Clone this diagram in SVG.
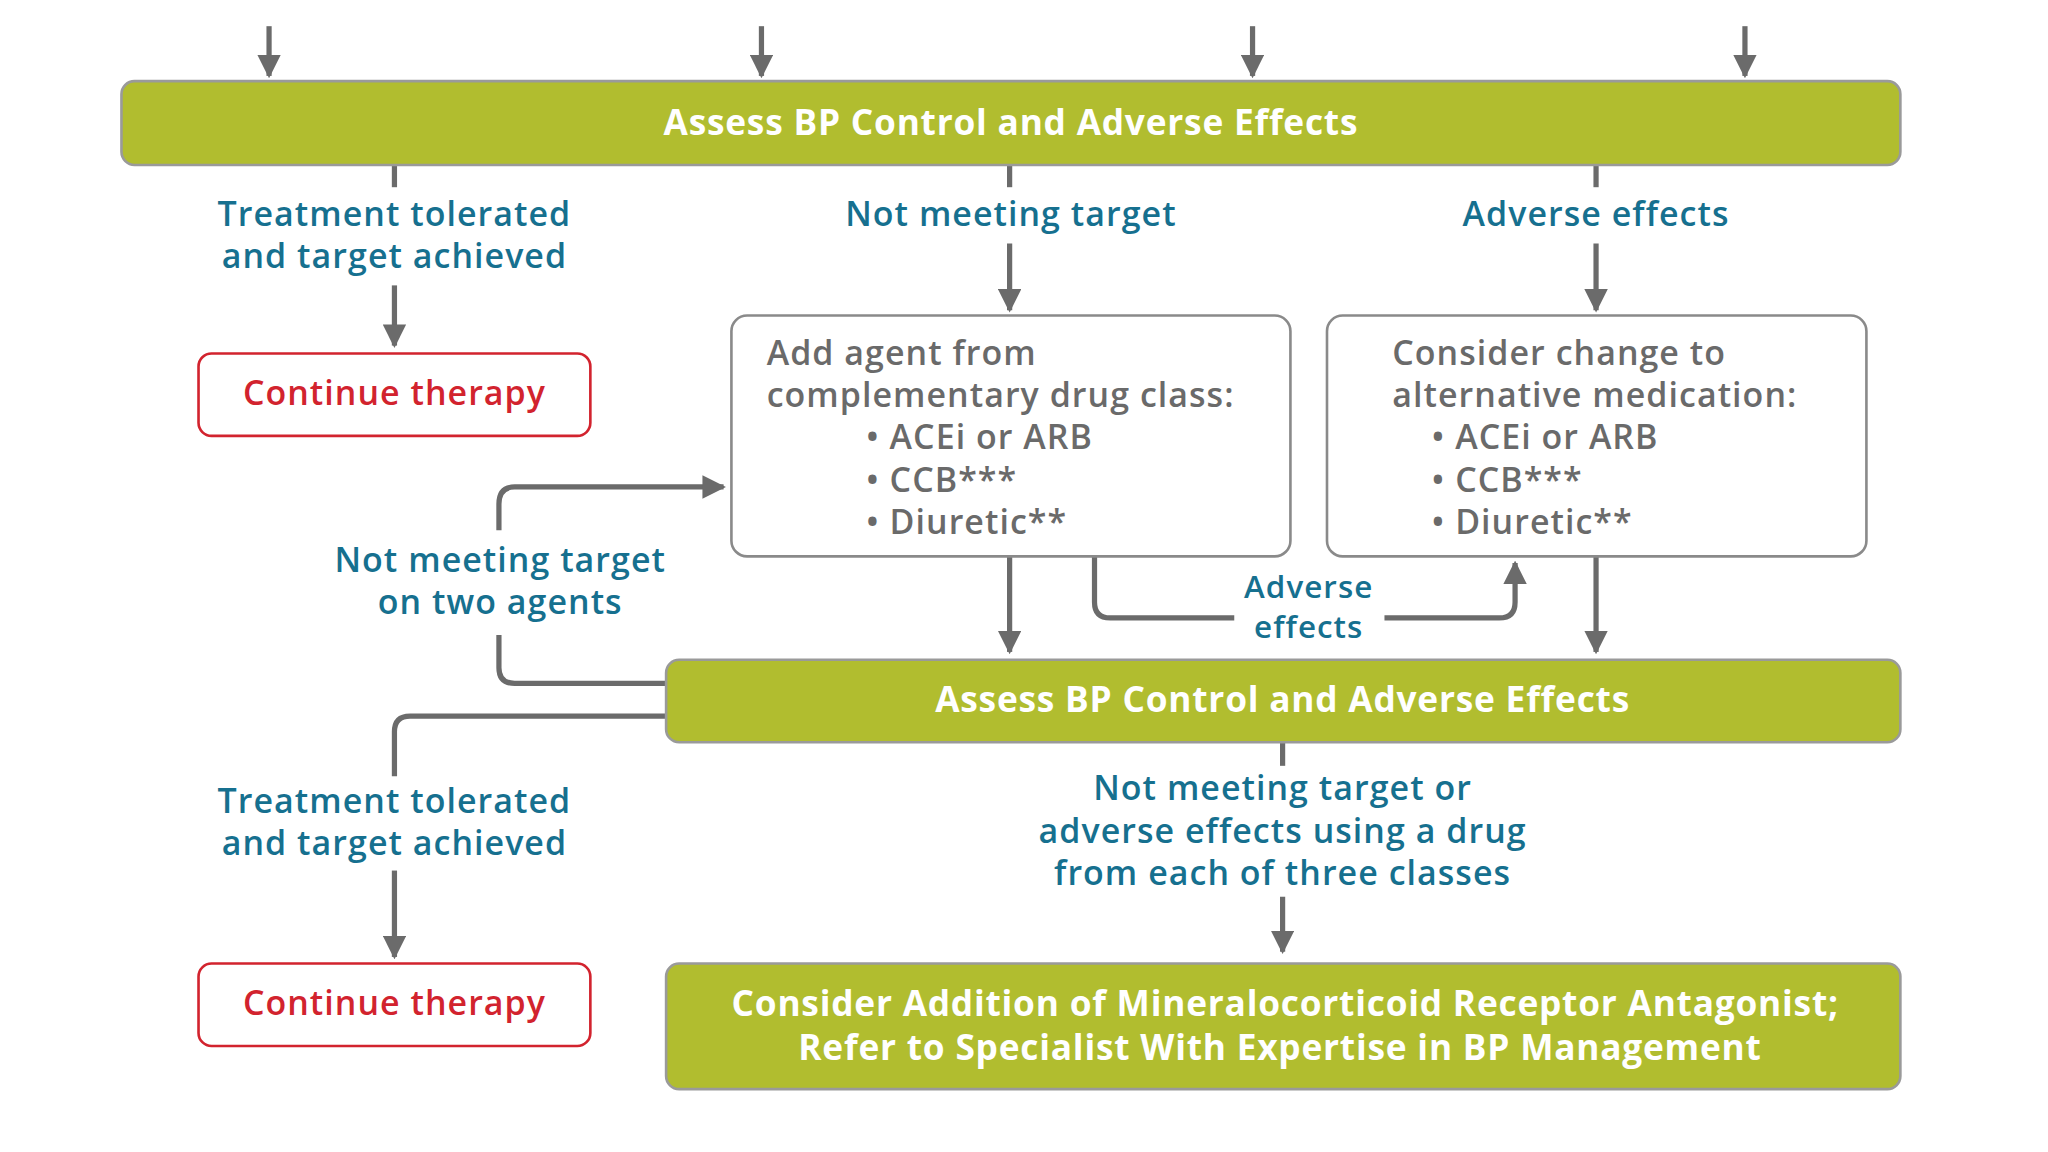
<svg xmlns="http://www.w3.org/2000/svg" width="2048" height="1152" viewBox="0 0 2048 1152">
<defs>
<marker id="ah" viewBox="0 0 10 10" refX="9" refY="5" markerWidth="4.5" markerHeight="4.5" orient="auto"><path d="M0,0 L10,5 L0,10 z" fill="#6b6b6b"/></marker>
<style>
.g{fill:#b1bd2f;stroke:#9a9a9a;stroke-width:2}
.gt{fill:#fff;font-family:"Open Sans",sans-serif;font-weight:700;font-size:27px;text-anchor:middle;letter-spacing:0.6px}
.lb{fill:#16708f;font-family:"Open Sans",sans-serif;font-weight:600;font-size:26px;text-anchor:middle;letter-spacing:0.8px}
.r{fill:#fff;stroke:#d2232e;stroke-width:2}
.rt{fill:#d2232e;font-family:"Open Sans",sans-serif;font-weight:600;font-size:26px;text-anchor:middle;letter-spacing:0.8px}
.w{fill:#fff;stroke:#8a8a8a;stroke-width:2}
.wt{fill:#6a6a6a;font-family:"Open Sans",sans-serif;font-weight:600;font-size:26px;letter-spacing:0.8px}
.c{fill:none;stroke:#6b6b6b;stroke-width:4}
.a{fill:none;stroke:#6b6b6b;stroke-width:4;marker-end:url(#ah)}
</style>
</defs>
<rect width="2048" height="1152" fill="#fff"/>
<g transform="scale(1.3061,1.3091)">
<g id="connectors">
<path class="a" d="M206,20 V58"/><path class="a" d="M583,20 V58"/><path class="a" d="M959,20 V58"/><path class="a" d="M1336,20 V58"/>
<path class="c" d="M302,126 V143"/><path class="c" d="M773,126 V143"/><path class="c" d="M1222,126 V143"/>
<path class="a" d="M302,218 V264"/><path class="a" d="M773,186 V237"/><path class="a" d="M1222,186 V237"/>
<path class="a" d="M773,425 V498"/><path class="a" d="M1222,425 V498"/>
<path class="c" d="M838,425 V460 Q838,472 850,472 H945"/>
<path class="a" d="M1060,472 H1148 Q1160,472 1160,460 V430"/>
<path class="c" d="M510,522 H394 Q382,522 382,510 V485"/>
<path class="a" d="M382,405 V385 Q382,372 394,372 H554"/>
<path class="c" d="M510,547 H314 Q302,547 302,559 V593"/>
<path class="a" d="M302,665 V731"/>
<path class="c" d="M982,567 V585"/>
<path class="a" d="M982,685 V727"/>
</g>
<g id="assess1"><rect class="g" x="93" y="62" width="1362" height="64" rx="10"/><text class="gt" x="774" y="103">Assess BP Control and Adverse Effects</text></g>
<g id="lbl1"><text class="lb" x="302" y="173">Treatment tolerated</text><text class="lb" x="302" y="205">and target achieved</text></g>
<g id="lbl2"><text class="lb" x="774" y="173">Not meeting target</text></g>
<g id="lbl3"><text class="lb" x="1222" y="173">Adverse effects</text></g>
<g id="cont1"><rect class="r" x="152" y="270" width="300" height="63" rx="10"/><text class="rt" x="302" y="309">Continue therapy</text></g>
<g id="add"><rect class="w" x="560" y="241" width="428" height="184" rx="12"/>
<text class="wt" x="587" y="279">Add agent from</text><text class="wt" x="587" y="311">complementary drug class:</text>
<text class="wt" x="663" y="343">• ACEi or ARB</text><text class="wt" x="663" y="376">• CCB***</text><text class="wt" x="663" y="408">• Diuretic**</text></g>
<g id="change"><rect class="w" x="1016" y="241" width="413" height="184" rx="12"/>
<text class="wt" x="1066" y="279">Consider change to</text><text class="wt" x="1066" y="311">alternative medication:</text>
<text class="wt" x="1096" y="343">• ACEi or ARB</text><text class="wt" x="1096" y="376">• CCB***</text><text class="wt" x="1096" y="408">• Diuretic**</text></g>
<g id="lbl4"><text class="lb" x="1002" y="457" style="font-size:24px">Adverse</text><text class="lb" x="1002" y="487" style="font-size:24px">effects</text></g>
<g id="lbl5"><text class="lb" x="383" y="437">Not meeting target</text><text class="lb" x="383" y="469">on two agents</text></g>
<g id="assess2"><rect class="g" x="510" y="504" width="945" height="63" rx="10"/><text class="gt" x="982" y="544">Assess BP Control and Adverse Effects</text></g>
<g id="lbl6"><text class="lb" x="302" y="621">Treatment tolerated</text><text class="lb" x="302" y="653">and target achieved</text></g>
<g id="lbl7"><text class="lb" x="982" y="611">Not meeting target or</text><text class="lb" x="982" y="644">adverse effects using a drug</text><text class="lb" x="982" y="676">from each of three classes</text></g>
<g id="cont2"><rect class="r" x="152" y="736" width="300" height="63" rx="10"/><text class="rt" x="302" y="775">Continue therapy</text></g>
<g id="mra"><rect class="g" x="510" y="736" width="945" height="96" rx="10"/>
<text class="gt" x="984" y="776">Consider Addition of Mineralocorticoid Receptor Antagonist;</text>
<text class="gt" x="980" y="810">Refer to Specialist With Expertise in BP Management</text></g>
</g>
</svg>
